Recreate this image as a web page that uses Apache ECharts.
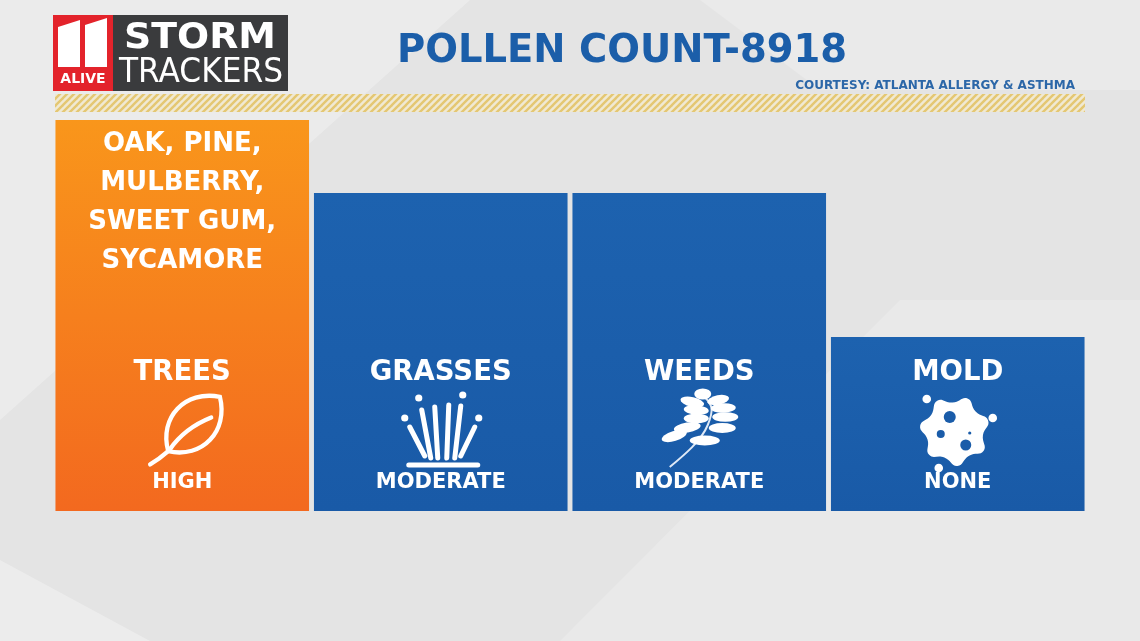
<!DOCTYPE html>
<html><head><meta charset="utf-8">
<script src="https://cdn.jsdelivr.net/npm/echarts@6/dist/echarts.min.js"></script>
<style>html,body{margin:0;padding:0;background:#e4e4e4}#c{width:1140px;height:641px}</style>
</head><body><div id="c"></div>
<script>
// ---- data ----
const categories = ['TREES', 'GRASSES', 'WEEDS', 'MOLD'];
const levels = ['HIGH', 'MODERATE', 'MODERATE', 'NONE'];
const levelValues = [100, 81.3, 81.3, 44.5];
const species = ['OAK, PINE,\nMULBERRY,\nSWEET GUM,\nSYCAMORE', '', '', ''];
const titleText = 'POLLEN COUNT-8918';
const courtesyText = 'COURTESY: ATLANTA ALLERGY & ASTHMA';

const FONT = '"DejaVu Sans", "Open Sans", sans-serif';
const chart = echarts.init(document.getElementById('c'));

// hatch pattern
const pc = document.createElement('canvas');
pc.width = 7; pc.height = 7;
const g = pc.getContext('2d');
g.fillStyle = '#f0e9d3'; g.fillRect(0, 0, 7, 7);
g.strokeStyle = '#e4c772'; g.lineWidth = 2.4;
[[-7, 7, 7, -7], [0, 7, 7, 0], [0, 14, 14, 0]].forEach(function (l) {
  g.beginPath(); g.moveTo(l[0], l[1]); g.lineTo(l[2], l[3]); g.stroke();
});

const orange = new echarts.graphic.LinearGradient(0, 0, 0, 1, [
  { offset: 0, color: '#f9961b' }, { offset: 1, color: '#f3691f' }]);
const blue = new echarts.graphic.LinearGradient(0, 0, 0, 1, [
  { offset: 0, color: '#1d62af' }, { offset: 1, color: '#195aa7' }]);

// blob points for mold icon
const blobPts = [];
for (let k = 0; k < 14; k++) {
  const a = k * Math.PI * 2 / 14 - 0.3;
  const r = k % 2 === 0 ? 35 : 28.5;
  blobPts.push([r * Math.cos(a), r * Math.sin(a)]);
}

function iconFor(i) {
  const W = '#ffffff';
  if (i === 0) {
    return [
      { type: 'path', x: 8, y: -83, rotation: -0.76,
        shape: { pathData: 'M0,-43 C30,-24 30,14 0,32 C-30,14 -30,-24 0,-43 Z' },
        style: { fill: 'none', stroke: W, lineWidth: 4.3 } },
      { type: 'path', x: 8, y: -83, rotation: -0.76,
        shape: { pathData: 'M0,32 Q-1,44 -4,54 M0,30 Q-4,4 8,-22' },
        style: { fill: 'none', stroke: W, lineWidth: 4.3, lineCap: 'round' } }
    ];
  }
  if (i === 1) {
    const s = { fill: 'none', stroke: W, lineWidth: 5, lineCap: 'round' };
    return [
      { type: 'path', shape: { pathData: 'M-32,-46 L37,-46' }, style: s },
      { type: 'path', shape: { pathData: 'M-3,-53 L-6,-104 M6,-53 L8,-106 M-10,-53 L-19,-101 M14,-53 L20,-105 M-16,-55 L-31,-84 M20,-55 L34,-84' }, style: s },
      { type: 'circle', shape: { cx: -22, cy: -113, r: 3.6 }, style: { fill: W } },
      { type: 'circle', shape: { cx: 22, cy: -116, r: 3.6 }, style: { fill: W } },
      { type: 'circle', shape: { cx: -36, cy: -93, r: 3.6 }, style: { fill: W } },
      { type: 'circle', shape: { cx: 38, cy: -93, r: 3.6 }, style: { fill: W } }
    ];
  }
  if (i === 2) {
    // [dx, dy, rx, ry, rotation]
    const leaves = [[3.5, -117, 8.5, 5.5, 0],
      [-7, -109, 12, 4.8, -0.22], [-3, -101, 12.5, 4.8, -0.08], [-3, -92.5, 12.5, 4.8, 0], [-12, -83.5, 13.5, 5, 0.15], [-25, -75, 13, 5, 0.3],
      [19, -111, 11, 4.8, 0.2], [24, -103, 12.5, 4.8, 0.05], [26, -94, 13, 4.8, 0], [23, -83, 13.5, 5, 0], [5.5, -70.5, 15, 5, 0]];
    const ch = [{ type: 'path', shape: { pathData: 'M-29.5,-44 C-15,-56 2,-70 8.5,-86 S13,-106 5.5,-114' },
      style: { fill: 'none', stroke: '#dfe9f6', lineWidth: 2 } }];
    leaves.forEach(function (l) {
      ch.push({ type: 'circle', x: l[0], y: l[1], scaleX: l[2] / 4, scaleY: l[3] / 4, rotation: l[4],
        shape: { cx: 0, cy: 0, r: 4 }, style: { fill: W } });
    });
    return ch;
  }
  const B = '#1a5ca9';
  return [
    { type: 'polygon', x: -3, y: -80, shape: { points: blobPts, smooth: 0.5 }, style: { fill: W } },
    { type: 'circle', shape: { cx: -8, cy: -94, r: 6 }, style: { fill: B } },
    { type: 'circle', shape: { cx: -17, cy: -77, r: 4 }, style: { fill: B } },
    { type: 'circle', shape: { cx: 8, cy: -66, r: 5.5 }, style: { fill: B } },
    { type: 'circle', shape: { cx: 12, cy: -78, r: 1.6 }, style: { fill: B } },
    { type: 'circle', shape: { cx: -31, cy: -112, r: 4.3 }, style: { fill: W } },
    { type: 'circle', shape: { cx: 35, cy: -93, r: 4.3 }, style: { fill: W } },
    { type: 'circle', shape: { cx: -19, cy: -43, r: 4.3 }, style: { fill: W } }
  ];
}

const option = {
  backgroundColor: '#e4e4e4',
  animation: false,
  title: [
    { text: titleText, left: 392, top: 27,
      textStyle: { fontFamily: FONT, fontWeight: 'bold', fontSize: 38.5, color: '#1b5ea9' } },
    { text: courtesyText, right: 60, top: 75,
      textStyle: { fontFamily: FONT, fontWeight: 'bold', fontSize: 12, color: '#2c67a8' } }
  ],
  grid: { left: 53, right: 53, top: 120, bottom: 130 },
  xAxis: { type: 'category', data: categories, show: false },
  yAxis: { type: 'value', min: 0, max: 100, show: false, splitLine: { show: false } },
  graphic: [
    { type: 'polygon', z: -10, shape: { points: [[0, 0], [470, 0], [0, 420]] }, style: { fill: 'rgba(255,255,255,0.28)' } },
    { type: 'polygon', z: -10, shape: { points: [[560, 641], [900, 300], [1140, 300], [1140, 641]] }, style: { fill: 'rgba(255,255,255,0.18)' } },
    { type: 'polygon', z: -10, shape: { points: [[0, 560], [150, 641], [0, 641]] }, style: { fill: 'rgba(255,255,255,0.3)' } },
    { type: 'polygon', z: -10, shape: { points: [[700, 0], [1140, 0], [1140, 90], [820, 90]] }, style: { fill: 'rgba(255,255,255,0.22)' } },
    { type: 'rect', z: -5, shape: { x: 55, y: 94, width: 1030, height: 18 }, style: { fill: { image: pc, repeat: 'repeat' } } },
    { type: 'rect', shape: { x: 53, y: 15, width: 60, height: 76 }, style: { fill: '#e3232b' } },
    { type: 'rect', shape: { x: 113, y: 15, width: 175, height: 76 }, style: { fill: '#3a3b3d' } },
    { type: 'polygon', shape: { points: [[58, 27], [80, 20], [80, 67], [58, 67]] }, style: { fill: '#fff' } },
    { type: 'polygon', shape: { points: [[85, 25], [107, 18], [107, 67], [85, 67]] }, style: { fill: '#fff' } },
    { type: 'text', x: 83, y: 79, style: { text: 'ALIVE', fill: '#fff', font: 'bold 14px "DejaVu Sans"', align: 'center', verticalAlign: 'middle' } },
    { type: 'text', x: 200, y: 39, scaleX: 1.05, style: { text: 'STORM', fill: '#fff', font: 'bold 36px "DejaVu Sans"', align: 'center', verticalAlign: 'middle' } },
    { type: 'text', x: 201, y: 73, scaleX: 0.92, style: { text: 'TRACKERS', fill: '#fff', font: '34px "DejaVu Sans"', align: 'center', verticalAlign: 'middle' } }
  ],
  series: [
    {
      type: 'bar', barCategoryGap: '1.9%',
      data: levelValues.map(function (v, i) { return { value: v, itemStyle: { color: i === 0 ? orange : blue } }; }),
      label: {
        show: true, position: 'insideBottom', distance: 15,
        formatter: function (p) { return '{n|' + categories[p.dataIndex] + '}\n{s| }\n{l|' + levels[p.dataIndex] + '}'; },
        rich: {
          n: { fontFamily: FONT, fontSize: 27.5, fontWeight: 'bold', color: '#fff', lineHeight: 36 },
          s: { fontSize: 10, lineHeight: 79 },
          l: { fontFamily: FONT, fontSize: 21, fontWeight: 'bold', color: '#fff', lineHeight: 26 }
        }
      }
    },
    {
      type: 'bar', barGap: '-100%', silent: true,
      data: levelValues,
      itemStyle: { color: 'rgba(0,0,0,0)' },
      label: {
        show: true, position: 'insideTop', distance: 5,
        formatter: function (p) { return species[p.dataIndex]; },
        fontFamily: FONT, fontSize: 26, fontWeight: 'bold', color: '#fff', lineHeight: 39, align: 'center'
      }
    },
    {
      type: 'custom', silent: true, z: 5,
      data: categories.map(function (c, i) { return [i, 0]; }),
      renderItem: function (params, api) {
        const p = api.coord([api.value(0), 0]);
        return { type: 'group', x: p[0], y: p[1], children: iconFor(params.dataIndex) };
      }
    }
  ]
};
chart.setOption(option);
</script></body></html>
